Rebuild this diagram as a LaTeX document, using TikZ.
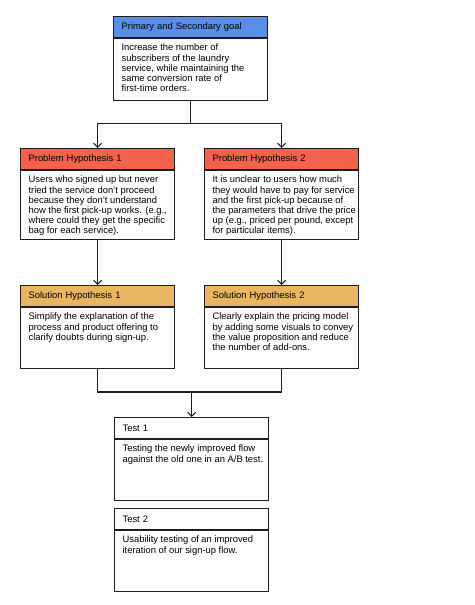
\documentclass[tikz,border=0pt]{standalone}
\usepackage{fontspec}
\setmainfont{Liberation Sans}
\usetikzlibrary{arrows.meta}
\definecolor{goalblue}{HTML}{5A8EE6}
\definecolor{probred}{HTML}{F2624C}
\definecolor{solgold}{HTML}{E8B660}
\definecolor{edgecol}{HTML}{1E1E1E}
\newcommand{\bodytxt}[2]{\parbox[t][#1][t]{138pt}{\begin{tabular}[t]{@{}l@{}}#2\end{tabular}}}
\begin{document}
\begin{tikzpicture}[x=1pt,y=1pt,font=\fontsize{9.4}{10.2}\selectfont,
  hdr/.style={draw=edgecol, line width=1.2pt, fill=#1, anchor=north west,
    minimum width=154pt, minimum height=21pt, text width=138pt,
    inner xsep=8pt, inner ysep=0pt, align=left},
  bodybox/.style={draw=edgecol, line width=1.2pt, fill=white, anchor=north,
    inner xsep=8pt, inner ysep=5pt},
  conn/.style={draw=edgecol, line width=1.1pt},
  arr/.style={conn, -{Straight Barb[length=4pt,width=8pt]}}]
\useasboundingbox[fill=white] (0,0) rectangle (474,-605);

\node[hdr=goalblue] (goalh) at (113,-16) {Primary and Secondary goal};
\node[bodybox] (goalb) at (goalh.south) {\bodytxt{52pt}{Increase the number of\\subscribers of the laundry\\service, while maintaining the\\same conversion rate of\\first-time orders.}};

\node[hdr=probred] (ph1h) at (20,-148) {Problem Hypothesis 1};
\node[bodybox] (ph1b) at (ph1h.south) {\bodytxt{59pt}{Users who signed up but never\\tried the service don’t proceed\\because they don’t understand\\how the first pick-up works. (e.g.,\\where could they get the specific\\bag for each service).}};

\node[hdr=probred] (ph2h) at (204,-148) {Problem Hypothesis 2};
\node[bodybox] (ph2b) at (ph2h.south) {\bodytxt{59pt}{It is unclear to users how much\\they would have to pay for service\\and the first pick-up because of\\the parameters that drive the price\\up (e.g., priced per pound, except\\for particular items).}};

\node[hdr=solgold] (sh1h) at (20,-285) {Solution Hypothesis 1};
\node[bodybox] (sh1b) at (sh1h.south) {\bodytxt{51pt}{Simplify the explanation of the\\process and product offering to\\clarify doubts during sign-up.}};

\node[hdr=solgold] (sh2h) at (204,-285) {Solution Hypothesis 2};
\node[bodybox] (sh2b) at (sh2h.south) {\bodytxt{51pt}{Clearly explain the pricing model\\by adding some visuals to convey\\the value proposition and reduce\\the number of add-ons.}};

\node[hdr=white] (t1h) at (114,-417) {Test 1};
\node[bodybox] (t1b) at (t1h.south) {\bodytxt{51pt}{Testing the newly improved flow\\against the old one in an A/B test.}};

\node[hdr=white] (t2h) at (114,-508) {Test 2};
\node[bodybox] (t2b) at (t2h.south) {\bodytxt{51pt}{Usability testing of an improved\\iteration of our sign-up flow.}};

\draw[conn] (goalb.south) -- ++(0,-22) coordinate (j1);
\draw[arr] (j1) -| (ph1h.north);
\draw[arr] (j1) -| (ph2h.north);
\draw[arr] (ph1b.south) -- (sh1h.north);
\draw[arr] (ph2b.south) -- (sh2h.north);
\path (t1h.north) ++(0,25) coordinate (j2);
\draw[conn] (sh1b.south) |- (j2) -| (sh2b.south);
\draw[arr] (j2) -- (t1h.north);
\end{tikzpicture}
\end{document}
